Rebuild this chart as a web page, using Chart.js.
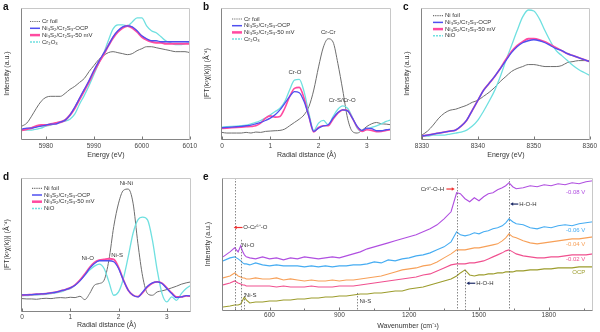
<!DOCTYPE html>
<html>
<head>
<meta charset="utf-8">
<script src="https://cdn.jsdelivr.net/npm/chart.js@4.4.1/dist/chart.umd.min.js"></script>
<style>
html, body { margin: 0; padding: 0; background: #fff; }
#wrap { position: relative; width: 600px; height: 332px; overflow: hidden; }
canvas { position: absolute; }
</style>
</head>
<body>
<div id="wrap">
  <canvas id="pa" width="200" height="160" style="left:0;top:0"></canvas>
  <canvas id="pb" width="200" height="160" style="left:200px;top:0"></canvas>
  <canvas id="pc" width="200" height="160" style="left:400px;top:0"></canvas>
  <canvas id="pd" width="200" height="172" style="left:0;top:160px"></canvas>
  <canvas id="pe" width="400" height="172" style="left:200px;top:160px"></canvas>
</div>
<script>
const FONT = "'Liberation Sans', Arial, sans-serif";

// a: Cr K-edge XANES
const aEnergy = [5975,5976,5977,5978,5979,5980,5981,5982,5983,5984,5985,5986,5987,5988,5989,5990,5991,5992,5993,5994,5995,5996,5997,5998,5999,6000,6001,6002,6003,6004,6005,6006,6007,6008,6009,6010];
const aCrFoil = [0.13,0.16,0.23,0.31,0.38,0.42,0.43,0.43,0.43,0.46,0.50,0.53,0.57,0.61,0.68,0.74,0.80,0.84,0.87,0.88,0.87,0.86,0.85,0.86,0.89,0.91,0.93,0.93,0.92,0.91,0.90,0.89,0.88,0.88,0.88,0.87];
const aOCP = [0.10,0.11,0.11,0.12,0.13,0.14,0.15,0.15,0.17,0.19,0.24,0.32,0.41,0.50,0.59,0.69,0.78,0.86,0.94,1.03,1.09,1.13,1.14,1.13,1.09,1.04,1.01,0.99,0.99,0.98,0.98,0.98,0.98,0.98,0.98,0.98];
const a50mV = [0.09,0.10,0.11,0.13,0.14,0.14,0.15,0.16,0.17,0.19,0.24,0.31,0.40,0.49,0.58,0.68,0.77,0.85,0.94,1.02,1.08,1.12,1.14,1.12,1.08,1.03,1.00,0.98,0.97,0.97,0.96,0.96,0.96,0.96,0.96,0.96];
const aCr2O3 = [0.09,0.09,0.09,0.10,0.11,0.13,0.14,0.16,0.17,0.18,0.20,0.25,0.35,0.44,0.54,0.65,0.76,0.86,0.99,1.11,1.15,1.15,1.14,1.18,1.22,1.22,1.14,1.09,1.07,1.03,0.99,0.97,0.95,0.95,0.96,0.97];
const aTicks = [5980, 5990, 6000, 6010];

// b: Cr FT-EXAFS
const bR = [0,0.1,0.2,0.3,0.4,0.5,0.6,0.7,0.8,0.9,1.0,1.1,1.2,1.3,1.4,1.5,1.6,1.7,1.8,1.9,2.0,2.1,2.2,2.3,2.4,2.5,2.6,2.7,2.8,2.9,3.0,3.1,3.2,3.3,3.4,3.5];
const bCrFoil = [0.40,0.36,0.36,0.36,0.36,0.40,0.36,0.42,0.40,0.46,0.48,0.50,0.52,0.60,0.80,1.00,1.20,1.46,1.96,2.96,4.36,5.56,6.06,5.86,4.56,2.96,1.26,0.46,0.36,0.52,0.76,0.92,1.00,0.92,0.90,0.86];
const bOCP = [0.68,0.70,0.72,0.74,0.76,0.80,0.84,0.92,1.00,1.12,1.26,1.46,1.76,2.16,2.56,2.86,2.80,2.26,1.36,0.46,0.66,0.80,0.86,1.26,1.60,1.76,1.70,1.26,0.76,0.52,0.66,0.62,0.50,0.50,0.56,0.60];
const b50mV = [0.64,0.66,0.68,0.70,0.72,0.74,0.76,0.80,0.96,1.26,1.40,1.32,1.36,1.86,2.56,3.06,3.12,2.46,1.36,0.42,0.70,0.80,0.80,1.20,1.56,1.76,1.72,1.26,0.72,0.46,0.56,0.52,0.44,0.46,0.52,0.56];
const bCr2O3 = [0.72,0.74,0.76,0.78,0.80,0.84,0.92,1.00,1.12,1.26,1.46,1.66,1.86,2.26,2.96,3.56,3.60,2.86,1.56,0.52,0.96,1.12,0.86,1.36,1.80,2.00,1.86,1.32,0.66,0.46,0.60,0.70,0.80,0.92,1.06,1.16];
const bTicks = [0, 1, 2, 3];

// c: Ni K-edge XANES
const cEnergy = [8330,8331,8332,8333,8334,8335,8336,8337,8338,8339,8340,8341,8342,8343,8344,8345,8346,8347,8348,8349,8350,8351,8352,8353,8354,8355,8356,8357,8358,8359,8360];
const cNiFoil = [0.04,0.08,0.14,0.21,0.26,0.29,0.30,0.32,0.34,0.37,0.39,0.43,0.47,0.52,0.58,0.63,0.68,0.71,0.73,0.75,0.75,0.74,0.73,0.73,0.73,0.74,0.77,0.78,0.79,0.79,0.79];
const cOCP = [0.03,0.04,0.05,0.06,0.07,0.08,0.09,0.13,0.19,0.29,0.39,0.49,0.56,0.63,0.71,0.79,0.87,0.93,0.97,0.99,1.00,0.99,0.97,0.94,0.91,0.89,0.86,0.84,0.82,0.80,0.78];
const c50mV = [0.03,0.04,0.05,0.06,0.07,0.08,0.09,0.13,0.19,0.29,0.39,0.49,0.56,0.63,0.71,0.80,0.88,0.94,0.98,1.01,1.01,1.00,0.98,0.95,0.92,0.89,0.86,0.84,0.82,0.80,0.78];
const cNiO = [0.03,0.03,0.04,0.04,0.04,0.05,0.06,0.07,0.09,0.13,0.19,0.28,0.38,0.49,0.63,0.79,0.94,1.09,1.23,1.30,1.29,1.21,1.09,0.98,0.89,0.84,0.79,0.74,0.70,0.67,0.64];
const cTicks = [8330, 8340, 8350, 8360];

// d: Ni FT-EXAFS
const dR = bR;
const dNiFoil = [0.74,0.72,0.72,0.70,0.74,0.76,0.74,0.78,0.80,0.78,0.82,0.80,0.88,0.68,1.04,1.54,1.64,1.84,3.04,5.04,6.44,7.20,7.28,6.44,4.04,2.04,1.04,0.94,1.14,1.20,1.28,1.38,1.48,1.60,1.68,1.74];
const dOCP = [0.96,0.96,0.98,1.00,1.02,1.04,1.08,1.12,1.20,1.28,1.38,1.54,1.80,2.14,2.54,2.84,3.00,3.00,3.00,2.94,2.54,1.84,1.24,0.94,0.84,1.14,1.48,1.68,1.74,1.64,1.34,1.04,0.80,0.84,0.92,0.90];
const d50mV = [0.94,0.96,0.98,1.00,1.02,1.04,1.08,1.12,1.20,1.28,1.38,1.56,1.84,2.20,2.60,2.90,3.04,3.08,3.12,3.08,2.60,1.86,1.24,0.94,0.86,1.10,1.44,1.66,1.74,1.66,1.38,1.08,0.84,0.84,0.90,0.88];
const dNiO = [0.92,0.92,0.94,0.96,0.98,1.00,1.04,1.08,1.14,1.24,1.34,1.54,1.84,2.14,2.44,2.68,2.80,2.54,1.74,0.94,1.14,1.94,3.24,4.64,5.44,5.60,5.44,4.24,2.44,1.04,0.54,0.84,0.64,1.04,1.34,1.54];
const dTicks = [0, 1, 2, 3];

// e: in-situ Raman
const eShift = [400,430,450,465,476,485,492,500,515,540,570,600,630,660,690,720,750,780,810,840,870,900,930,960,990,1020,1050,1080,1110,1140,1170,1200,1230,1260,1290,1320,1350,1380,1404,1420,1440,1460,1480,1500,1520,1540,1560,1580,1600,1615,1629,1645,1660,1690,1720,1750,1780,1810,1840,1870,1900,1930,1960,1990];
const eM008 = [53,58,62,58,64,58,55,53,52,51,53,51,52,50,52,51,53,52,51,52,53,52,54,56,58,61,63,65,67,69,71,73,75,78,81,85,91,98,117,116,111,108,112,109,113,116,117,120,122,124,127,123,121,122,124,123,125,124,126,125,127,126,128,129];
const eM006 = [49,52,53,51,49,47,46,46,45,47,45,44,45,44,44,44,43,44,43,44,43,44,44,45,45,46,48,47,50,49,51,52,54,55,57,60,63,68,78,75,74,75,77,76,78,79,81,82,84,87,91,88,86,85,82,81,83,82,84,85,84,86,87,88];
const eM004 = [32,34,37,34,33,32,32,31,31,32,31,31,32,30,31,30,29,30,29,29,30,29,30,30,31,32,33,34,36,38,40,41,42,44,45,48,52,56,60,60,60,61,62,62,63,64,65,66,69,72,76,73,72,69,67,66,67,68,69,70,71,71,72,73];
const eM002 = [25,27,29,27,26,25,25,24,24,24,24,24,23,24,23,23,23,24,23,23,23,24,24,24,25,26,27,28,29,30,31,32,33,35,36,39,42,45,46,46,46,47,47,48,49,51,53,55,57,59,60,58,56,54,53,52,52,53,53,54,55,55,55,56];
const eOCP = [3,4,5,5,6,10,13,10,7,8,8,9,9,10,10,11,11,12,12,13,13,14,14,15,16,16,17,17,18,19,19,21,22,23,25,27,29,31,34,37,40,35,34,35,35,36,36,37,37,38,38,38,39,39,40,40,41,41,42,42,42,43,43,43];
const eTicks = [600, 900, 1200, 1500, 1800];
const eMinor = [450, 750, 1050, 1350, 1650, 1950];

const GRAY = '#6e6e6e', BLUE = '#4f4ff0', PINK = '#ff4aa0', CYAN = '#6fe0e0';
const LBL_OCP = 'Ni\u2083S\u2082/Cr\u2082S\u2083-OCP';
const LBL_50 = 'Ni\u2083S\u2082/Cr\u2082S\u2083-50 mV';

// 枠・目盛・凡例・注記
const decor = {
  id: 'decor',
  afterDatasetsDraw(chart, args, o) {
    const ctx = chart.ctx, ca = chart.chartArea;
    const sx = chart.scales.x, sy = chart.scales.y;
    ctx.save();
    (o.vlines || []).forEach(v => {
      const x = Math.round(sx.getPixelForValue(v.x)) + 0.5;
      const y1 = v.from == null ? ca.top : sy.getPixelForValue(v.from);
      ctx.strokeStyle = '#6a6a6a'; ctx.lineWidth = 0.8; ctx.setLineDash([1.5, 1.5]);
      ctx.beginPath(); ctx.moveTo(x, y1); ctx.lineTo(x, ca.bottom); ctx.stroke();
    });
    ctx.setLineDash([]);
    const L = Math.round(ca.left) - 0.5, R = Math.round(ca.right) - 0.5;
    const T = Math.round(ca.top) + 0.5, B = Math.round(ca.bottom) + 0.5;
    ctx.lineWidth = 1;
    ctx.strokeStyle = '#c8c8c8';
    ctx.beginPath(); ctx.moveTo(L, T); ctx.lineTo(R, T); ctx.lineTo(R, B); ctx.stroke();
    ctx.strokeStyle = '#858585';
    ctx.beginPath(); ctx.moveTo(L, T); ctx.lineTo(L, B); ctx.lineTo(R, B); ctx.stroke();
    ctx.strokeStyle = '#777';
    (o.ticks || []).forEach(v => {
      const x = Math.round(sx.getPixelForValue(v)) + 0.5;
      ctx.beginPath(); ctx.moveTo(x, B); ctx.lineTo(x, B - 3); ctx.stroke();
    });
    (o.minor || []).forEach(v => {
      const x = Math.round(sx.getPixelForValue(v)) + 0.5;
      ctx.beginPath(); ctx.moveTo(x, B); ctx.lineTo(x, B - 2); ctx.stroke();
    });
    if (o.legend) {
      const lg = o.legend;
      ctx.font = '6px ' + FONT; ctx.textBaseline = 'middle'; ctx.textAlign = 'left';
      lg.order.forEach((di, i) => {
        const ds = chart.data.datasets[di];
        const y = lg.y + i * lg.dy;
        ctx.strokeStyle = ds.borderColor; ctx.lineWidth = ds.legendWidth;
        ctx.setLineDash(ds.legendDash || []);
        ctx.beginPath(); ctx.moveTo(lg.x, y); ctx.lineTo(lg.x + 10, y); ctx.stroke();
        ctx.setLineDash([]);
        ctx.fillStyle = '#333'; ctx.fillText(ds.label, lg.x + 12, y);
      });
    }
    (o.arrows || []).forEach(a => {
      const x1 = sx.getPixelForValue(a.from), x2 = sx.getPixelForValue(a.to), y = sy.getPixelForValue(a.y);
      const d = x2 > x1 ? 1 : -1;
      ctx.strokeStyle = a.color; ctx.fillStyle = a.color; ctx.lineWidth = 1.2;
      ctx.beginPath(); ctx.moveTo(x1, y); ctx.lineTo(x2 - d * 2, y); ctx.stroke();
      ctx.beginPath(); ctx.moveTo(x2, y); ctx.lineTo(x2 - d * 3, y - 1.8); ctx.lineTo(x2 - d * 3, y + 1.8); ctx.closePath(); ctx.fill();
    });
    (o.labels || []).forEach(t => {
      ctx.font = '6px ' + FONT; ctx.textBaseline = 'middle';
      ctx.textAlign = t.align || 'center';
      ctx.fillStyle = t.color || '#333';
      ctx.fillText(t.text, sx.getPixelForValue(t.x), sy.getPixelForValue(t.y));
    });
    ctx.font = 'bold 10px ' + FONT; ctx.textAlign = 'left'; ctx.textBaseline = 'middle';
    ctx.fillStyle = '#111';
    ctx.fillText(o.letter, 3, o.letterY);
    ctx.restore();
  }
};

function pts(xs, ys) { return xs.map((x, i) => ({ x: x, y: ys[i] })); }

function panel(id, p) {
  return new Chart(document.getElementById(id), {
    type: 'line',
    data: {
      datasets: p.series.map(s => ({
        label: s.label,
        data: pts(p.x, s.y),
        borderColor: s.color,
        borderWidth: s.width,
        legendWidth: s.lw || s.width,
        legendDash: s.dash,
        pointRadius: 0,
        fill: false,
        tension: 0,
        cubicInterpolationMode: p.smooth ? 'monotone' : 'default'
      }))
    },
    options: {
      responsive: false,
      animation: false,
      devicePixelRatio: 1,
      layout: { padding: p.pad },
      plugins: { legend: { display: false }, tooltip: { enabled: false }, decor: p.decor },
      scales: {
        x: {
          type: 'linear', min: p.xMin, max: p.xMax,
          afterFit: s => { s.height = p.xh; },
          afterBuildTicks: s => { s.ticks = p.ticks.map(v => ({ value: v })); },
          grid: { display: false, drawTicks: false },
          border: { display: false },
          ticks: { autoSkip: false, maxRotation: 0, padding: p.tickPad, color: '#444', font: { family: FONT, size: 6.5 }, callback: v => String(v) },
          title: { display: true, text: p.xTitle, color: '#333', font: { family: FONT, size: 7 }, padding: { top: 0, bottom: p.xtPad } }
        },
        y: {
          min: 0, max: p.yMax,
          afterFit: s => { s.width = p.yw; },
          grid: { display: false, drawTicks: false },
          border: { display: false },
          ticks: { display: false },
          title: { display: true, text: p.yTitle, color: '#333', font: { family: FONT, size: 7 }, padding: { top: p.ytPad, bottom: 0 } }
        }
      }
    },
    plugins: [decor]
  });
}

const FT_TITLE = '|FT(k\u00b3\u03c7(k))| (\u00c5\u207b\u2074)';

panel('pa', {
  x: aEnergy, xMin: 5975, xMax: 6010, yMax: 1.32, ticks: aTicks, smooth: true,
  pad: { left: 0, right: 9, top: 8, bottom: 0 }, xh: 21, yw: 22, tickPad: 3, xtPad: 0.8, ytPad: 2.8,
  xTitle: 'Energy (eV)', yTitle: 'Intensity (a.u.)',
  series: [
    { label: LBL_OCP, y: aOCP, color: BLUE, width: 1.3, lw: 1.5 },
    { label: LBL_50, y: a50mV, color: PINK, width: 2.2, lw: 2.5 },
    { label: 'Cr\u2082O\u2083', y: aCr2O3, color: CYAN, width: 1.3, lw: 1.5, dash: [2, 1] },
    { label: 'Cr foil', y: aCrFoil, color: GRAY, width: 1, lw: 1.2, dash: [1.2, 1] }
  ],
  decor: { letter: 'a', letterY: 7, ticks: aTicks, legend: { x: 30, y: 21.5, dy: 6.8, order: [3, 0, 1, 2] } }
});

panel('pb', {
  x: bR, xMin: 0, xMax: 3.5, yMax: 7.92, ticks: bTicks, smooth: true,
  pad: { left: 0, right: 9, top: 8, bottom: 0 }, xh: 21, yw: 22, tickPad: 3, xtPad: 0.8, ytPad: 2.8,
  xTitle: 'Radial distance (\u00c5)', yTitle: FT_TITLE,
  series: [
    { label: LBL_OCP, y: bOCP, color: BLUE, width: 1.3, lw: 1.5 },
    { label: LBL_50, y: b50mV, color: PINK, width: 1.6, lw: 2.5 },
    { label: 'Cr\u2082O\u2083', y: bCr2O3, color: CYAN, width: 1.3, lw: 1.5, dash: [2, 1] },
    { label: 'Cr foil', y: bCrFoil, color: GRAY, width: 1, lw: 1.2, dash: [1.2, 1] }
  ],
  decor: {
    letter: 'b', letterY: 7, ticks: bTicks, legend: { x: 32, y: 19, dy: 6.7, order: [3, 0, 1, 2] },
    labels: [
      { x: 2.2, y: 6.44, text: 'Cr-Cr' },
      { x: 1.51, y: 4.0, text: 'Cr-O' },
      { x: 2.49, y: 2.36, text: 'Cr-S/Cr-O' }
    ]
  }
});

panel('pc', {
  x: cEnergy, xMin: 8330, xMax: 8360, yMax: 1.32, ticks: cTicks, smooth: true,
  pad: { left: 0, right: 9, top: 8, bottom: 0 }, xh: 21, yw: 22, tickPad: 3, xtPad: 0.8, ytPad: 2.8,
  xTitle: 'Energy (eV)', yTitle: 'Intensity (a.u.)',
  series: [
    { label: LBL_OCP, y: cOCP, color: BLUE, width: 1.3, lw: 1.5 },
    { label: LBL_50, y: c50mV, color: PINK, width: 1.8, lw: 2.5 },
    { label: 'NiO', y: cNiO, color: CYAN, width: 1.3, lw: 1.5, dash: [2, 1] },
    { label: 'Ni foil', y: cNiFoil, color: GRAY, width: 1, lw: 1.2, dash: [1.2, 1] }
  ],
  decor: { letter: 'c', letterY: 7, ticks: cTicks, legend: { x: 33, y: 15.7, dy: 6.7, order: [3, 0, 1, 2] } }
});

panel('pd', {
  x: dR, xMin: 0, xMax: 3.5, yMax: 7.94, ticks: dTicks, smooth: true,
  pad: { left: 0, right: 9, top: 18, bottom: 0 }, xh: 21, yw: 22, tickPad: 2, xtPad: 2.8, ytPad: 2.8,
  xTitle: 'Radial distance (\u00c5)', yTitle: FT_TITLE,
  series: [
    { label: LBL_OCP, y: dOCP, color: BLUE, width: 1.3, lw: 1.5 },
    { label: LBL_50, y: d50mV, color: PINK, width: 1.8, lw: 2.5 },
    { label: 'NiO', y: dNiO, color: CYAN, width: 1.3, lw: 1.5, dash: [2, 1] },
    { label: 'Ni foil', y: dNiFoil, color: GRAY, width: 1, lw: 1.2, dash: [1.2, 1] }
  ],
  decor: {
    letter: 'd', letterY: 17, ticks: dTicks, legend: { x: 32, y: 28.3, dy: 6.7, order: [3, 0, 1, 2] },
    labels: [
      { x: 2.16, y: 7.64, text: 'Ni-Ni' },
      { x: 1.36, y: 3.14, text: 'Ni-O' },
      { x: 1.97, y: 3.34, text: 'Ni-S' }
    ]
  }
});

const RED = '#f03030', NAVY = '#1c2a66';
const C08 = '#b04fe0', C06 = '#45acf2', C04 = '#f7a058', C02 = '#f0508f', COCP = '#9c9c2c';

panel('pe', {
  x: eShift, xMin: 400, xMax: 1990, yMax: 131.7, ticks: eTicks, smooth: false,
  pad: { left: 0, right: 7, top: 18, bottom: 0 }, xh: 22, yw: 23, tickPad: 1.5, xtPad: 1.8, ytPad: 3.8,
  xTitle: 'Wavenumber (cm\u207b\u00b9)', yTitle: 'Intensity (a.u.)',
  series: [
    { label: '-0.08 V', y: eM008, color: C08, width: 1.1 },
    { label: '-0.06 V', y: eM006, color: C06, width: 1.1 },
    { label: '-0.04 V', y: eM004, color: C04, width: 1.1 },
    { label: '-0.02 V', y: eM002, color: C02, width: 1.1 },
    { label: 'OCP', y: eOCP, color: COCP, width: 1.1 }
  ],
  decor: {
    letter: 'e', letterY: 17, ticks: eTicks, minor: eMinor,
    vlines: [
      { x: 450 }, { x: 476, from: 70 }, { x: 492, from: 17 }, { x: 976, from: 17 },
      { x: 1404 }, { x: 1440, from: 40 }, { x: 1629 }
    ],
    arrows: [
      { from: 484, to: 446, y: 82.3, color: RED },
      { from: 1360, to: 1396, y: 120.7, color: RED },
      { from: 1669, to: 1634, y: 105.7, color: NAVY },
      { from: 1484, to: 1446, y: 26.7, color: NAVY }
    ],
    labels: [
      { x: 487, y: 82.3, text: 'O-Cr\u2076\u207a-O', align: 'left' },
      { x: 482, y: 65, text: 'Ni-O', align: 'left' },
      { x: 494, y: 14.3, text: 'Ni-S', align: 'left' },
      { x: 987, y: 8.3, text: 'Ni-S', align: 'left' },
      { x: 1350, y: 120.7, text: 'Cr\u00b3\u207a-O-H', align: 'right' },
      { x: 1673, y: 105.7, text: 'H-O-H', align: 'left' },
      { x: 1488, y: 26.7, text: 'H-O-H', align: 'left' },
      { x: 1957, y: 117.7, text: '-0.08 V', align: 'right', color: C08 },
      { x: 1957, y: 79.3, text: '-0.06 V', align: 'right', color: C06 },
      { x: 1957, y: 65.7, text: '-0.04 V', align: 'right', color: C04 },
      { x: 1957, y: 51, text: '-0.02 V', align: 'right', color: C02 },
      { x: 1957, y: 37.7, text: 'OCP', align: 'right', color: COCP }
    ]
  }
});
</script>
</body>
</html>
